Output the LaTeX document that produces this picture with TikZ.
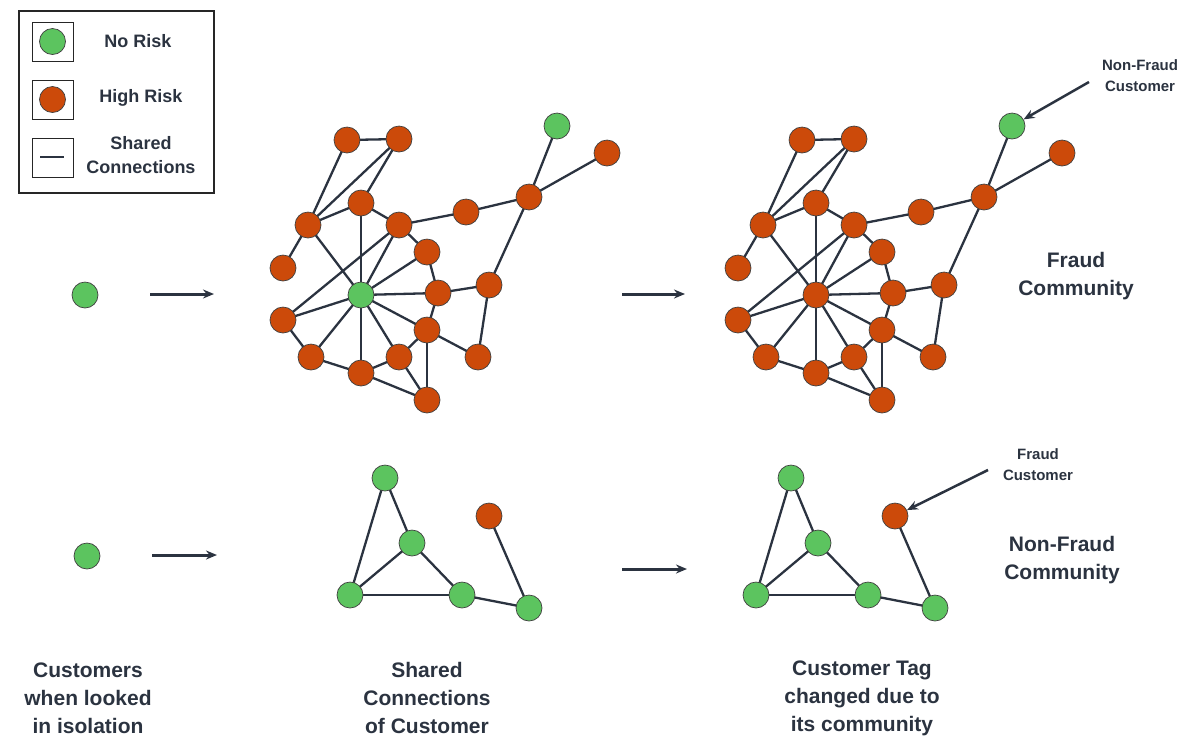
\documentclass[tikz,border=0pt]{standalone}
\usepackage{fontspec}
\setmainfont{Liberation Sans}
\usetikzlibrary{arrows.meta}
\definecolor{ink}{HTML}{2B3340}
\definecolor{safe}{HTML}{5CC45F}
\definecolor{risk}{HTML}{CC4A0A}
\begin{document}
\begin{tikzpicture}[x=1pt,y=-1pt,
  dot/.style={circle,draw=black!75,line width=0.7pt,minimum size=26pt,inner sep=0pt},
  ok/.style={dot,fill=safe},
  bad/.style={dot,fill=risk},
  link/.style={ink,line width=2.3pt},
  flow/.style={ink,line width=3pt,-{Stealth[length=11pt,width=9pt]}},
  lbl/.style={font=\bfseries,text=ink,align=center}]
\useasboundingbox (0,0) rectangle (1200,740);

% legend
\draw[black!85,line width=1.5pt] (19,11) rectangle (214,193);
\draw[black!85,line width=0.8pt] (32,22) rectangle (73,61);
\draw[black!85,line width=0.8pt] (32,80) rectangle (73,119);
\draw[black!85,line width=0.8pt] (32,138) rectangle (73,177);
\node[ok] (lg1) at (52.5,41.5) {};
\node[bad] (lg2) at (52.5,99.5) {};
\coordinate (lgA) at (40,157);
\coordinate (lgB) at (64,157);
\draw[link] (lgA) -- (lgB);
\node[lbl,font=\bfseries\fontsize{18}{21}\selectfont] at (138,41) {No Risk};
\node[lbl,font=\bfseries\fontsize{18}{21}\selectfont] at (141,98) {High Risk};
\node[lbl,font=\bfseries\fontsize{18}{24}\selectfont] at (141,155) {Shared\\Connections};

% isolated customers
\node[ok] (iso1) at (85,295) {};
\node[ok] (iso2) at (87,556) {};

% big graphs: top middle (M) and top right (N)
\foreach \p/\dx/\hc in {M/0/ok,N/455/bad}{
  \begin{scope}[xshift=\dx]
  \foreach \n/\x/\y in {a/347/140,b/399/139,c/308/225,d/361/203,e/399/225,f/283/268,
      g/427/252,i/438/293,j/283/320,k/427/330,l/311/357,m/361/373,n/399/357,
      o/427/400,p/466/212,q/529/197,s/607/153,t/489/285,u/478/357}
    \coordinate (\p\n) at (\x,\y);
  \coordinate (\p h) at (361,295);
  \coordinate (\p r) at (557,126);
  \end{scope}
  \foreach \u/\v in {a/b,a/c,b/c,b/d,c/d,c/f,c/h,d/h,d/e,e/p,p/q,q/r,q/s,q/t,t/i,t/u,
      e/g,g/i,e/h,e/j,h/g,h/i,h/j,h/l,h/m,h/n,h/k,j/l,l/m,m/n,n/k,k/i,k/u,k/o,n/o,m/o}
    \draw[link] (\p\u) -- (\p\v);
  \foreach \n in {a,b,c,d,e,f,g,i,j,k,l,m,n,o,p,q,s,t,u}
    \node[bad] (\p\n X) at (\p\n) {};
  \node[\hc] (\p hX) at (\p h) {};
  \node[ok] (\p rX) at (\p r) {};
}

% small graphs: bottom middle (P) and bottom right (Q)
\foreach \p/\dx/\ec in {P/0/bad,Q/406/bad}{
  \begin{scope}[xshift=\dx]
  \foreach \n/\x/\y in {A/385/478,B/412/543,C/350/595,D/462/595,E/489/516,F/529/608}
    \coordinate (\p\n) at (\x,\y);
  \end{scope}
  \foreach \u/\v in {A/C,A/B,B/C,B/D,C/D,D/F,E/F}
    \draw[link] (\p\u) -- (\p\v);
  \foreach \n in {A,B,C,D,F}
    \node[ok] (\p\n X) at (\p\n) {};
  \node[\ec] (\p EX) at (\p E) {};
}

% flow arrows
\foreach \n/\x/\y/\xx in {f1/150/294/214,f2/622/294/685,f3/152/555/217,f4/622/569/687}{
  \coordinate (\n a) at (\x,\y);
  \coordinate (\n b) at (\xx,\y);
  \draw[flow] (\n a) -- (\n b);
}

% annotations
\node[lbl,font=\bfseries\fontsize{15}{21}\selectfont] (nfc) at (1140,76) {Non-Fraud\\Customer};
\coordinate (nfa) at (1089,82);
\draw[flow,line width=2.5pt] (nfa) -- (NrX);
\node[lbl,font=\bfseries\fontsize{15}{21}\selectfont] (fc) at (1038,465) {Fraud\\Customer};
\coordinate (fca) at (988,470);
\draw[flow,line width=2.5pt] (fca) -- (QEX);

\node[lbl,font=\bfseries\fontsize{21}{28}\selectfont] at (1076,276) {Fraud\\Community};
\node[lbl,font=\bfseries\fontsize{21}{28}\selectfont] at (1062,560) {Non-Fraud\\Community};

\node[lbl,font=\bfseries\fontsize{21}{28}\selectfont] at (88,698) {Customers\\when looked\\in isolation};
\node[lbl,font=\bfseries\fontsize{21}{28}\selectfont] at (427,698) {Shared\\Connections\\of Customer};
\node[lbl,font=\bfseries\fontsize{21}{28}\selectfont] at (862,698) {Customer Tag\\changed due to\\its community};
\end{tikzpicture}
\end{document}
